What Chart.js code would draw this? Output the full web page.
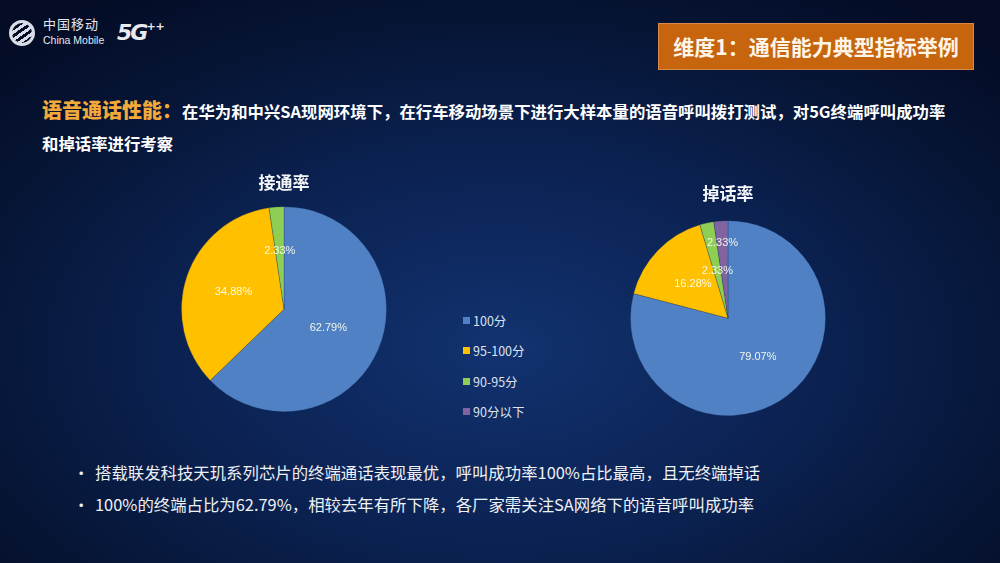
<!DOCTYPE html>
<html lang="zh-CN">
<head>
<meta charset="utf-8">
<script src="https://cdn.jsdelivr.net/npm/chart.js@4"></script>
<style>
  html, body { margin: 0; padding: 0; }
  body {
    width: 1000px; height: 563px; overflow: hidden; position: relative;
    font-family: 'Noto Sans CJK SC', 'Noto Sans', sans-serif;
    background: radial-gradient(ellipse 70% 75% at 50% 62%, #123270 0%, #0b2252 45%, #061433 80%, #040c26 100%);
    color: #fff;
  }
  .abs { position: absolute; white-space: nowrap; }
  .logo-icon {
    left: 9px; top: 20px; width: 26px; height: 26px; border-radius: 50%;
    border: 3px solid #d9dde6; box-sizing: border-box;
    background: repeating-linear-gradient(-35deg, #d9dde6 0 3px, transparent 3px 6px);
  }
  .logo-cn { left: 43px; top: 16px; font-size: 13px; line-height: 16px; color: #e6e8ee; letter-spacing: 1px; }
  .logo-en { left: 43px; top: 34px; font-size: 10.5px; line-height: 12px; color: #e6e8ee; font-family: 'Liberation Sans', sans-serif; }
  .logo-5g { left: 117px; top: 20px; font-size: 22px; font-weight: bold; font-style: italic; color: #e8eaf0; font-family: 'DejaVu Sans', sans-serif; letter-spacing: -2px; }
  .logo-5g sup { font-size: 11px; vertical-align: 10px; letter-spacing: 0; }
  .tag {
    left: 658px; top: 23px; width: 316px; height: 47px; background: #c7650f;
    border: 1px solid #d88a4a; box-sizing: border-box;
    font-size: 21px; font-weight: bold; line-height: 45px; text-align: center; color: #fff5e8;
  }
  .lead { left: 42px; top: 94px; font-size: 16.4px; font-weight: bold; line-height: 32px; color: #fff; }
  .lead b { color: #f2a93b; font-size: 20px; }
  #legend { left: 463px; top: 305px; font-size: 12.5px; color: #dde3ee; }
  #legend div { height: 30.5px; display: flex; align-items: center; }
  #legend i { display: inline-block; width: 7px; height: 7px; margin-right: 3px; }
  .bullets { left: 73px; top: 456px; font-size: 16.4px; color: #eef1f6; line-height: 32px; }
  .bullets span { display: inline-block; width: 22px; }
</style>
</head>
<body>
<div class="abs logo-icon"></div>
<div class="abs logo-cn">中国移动</div>
<div class="abs logo-en">China Mobile</div>
<div class="abs logo-5g">5G<sup>++</sup></div>
<div class="abs tag">维度1：通信能力典型指标举例</div>
<div class="abs lead"><b>语音通话性能：</b>在华为和中兴SA现网环境下，在行车移动场景下进行大样本量的语音呼叫拨打测试，对5G终端呼叫成功率<br>和掉话率进行考察</div>

<div class="abs" style="left:181px; top:172px; width:206px; height:240px;"><canvas id="chartConnect"></canvas></div>
<div class="abs" style="left:630px; top:183px; width:196px; height:233px;"><canvas id="chartDrop"></canvas></div>
<div class="abs" id="legend"></div>

<div class="abs bullets">
  <div><span>•</span>搭载联发科技天玑系列芯片的终端通话表现最优，呼叫成功率100%占比最高，且无终端掉话</div>
  <div><span>•</span>100%的终端占比为62.79%，相较去年有所下降，各厂家需关注SA网络下的语音呼叫成功率</div>
</div>

<script>
  const categories = ['100分', '95-100分', '90-95分', '90分以下'];
  const connectRate = [62.79, 34.88, 2.33, 0];
  const dropRate = [79.07, 16.28, 2.33, 2.33];
  const sliceColors = ['#4f81c4', '#ffc000', '#8fce55', '#8064a2'];

  // legend shared by both pies
  const legend = document.getElementById('legend');
  categories.forEach((label, i) => {
    const row = document.createElement('div');
    const dot = document.createElement('i');
    dot.style.background = sliceColors[i];
    row.append(dot, document.createTextNode(label));
    legend.appendChild(row);
  });

  // draws "xx.xx%" inside each slice
  const sliceLabels = {
    id: 'sliceLabels',
    afterDatasetsDraw(chart, args, opts) {
      const { ctx } = chart;
      const meta = chart.getDatasetMeta(0);
      const values = chart.data.datasets[0].data;
      const offsets = opts.offsets || [];
      ctx.save();
      ctx.font = '11px "Liberation Sans", sans-serif';
      ctx.fillStyle = 'rgba(255, 255, 240, 0.92)';
      ctx.textAlign = 'center';
      ctx.textBaseline = 'middle';
      meta.data.forEach((arc, i) => {
        if (!values[i]) return;
        const p = arc.getProps(['startAngle', 'endAngle', 'outerRadius', 'x', 'y'], true);
        const mid = (p.startAngle + p.endAngle) / 2;
        const r = p.outerRadius * (offsets[i] || 0.5);
        ctx.fillText(values[i].toFixed(2) + '%', p.x + Math.cos(mid) * r, p.y + Math.sin(mid) * r);
      });
      ctx.restore();
    },
  };

  const makePie = (id, title, values, titleGap, offsets) => new Chart(document.getElementById(id), {
    type: 'pie',
    data: {
      labels: categories,
      datasets: [{
        data: values,
        backgroundColor: sliceColors,
        borderColor: 'rgba(20, 40, 80, 0.5)',
        borderWidth: 0.5,
      }],
    },
    options: {
      responsive: true,
      maintainAspectRatio: false,
      animation: false,
      layout: { padding: 0 },
      plugins: {
        legend: { display: false },
        tooltip: { enabled: false },
        title: {
          display: true,
          text: title,
          color: '#f4f6fa',
          font: { size: 17, weight: 'bold', family: "'Noto Sans CJK SC', sans-serif" },
          padding: { top: 0, bottom: titleGap },
        },
        sliceLabels: { offsets },
      },
    },
    plugins: [sliceLabels],
  });

  makePie('chartConnect', '接通率', connectRate, 14, [0.47, 0.52, 0.57, 0.5]);
  makePie('chartDrop', '掉话率', dropRate, 17, [0.5, 0.5, 0.5, 0.77]);
</script>
</body>
</html>
